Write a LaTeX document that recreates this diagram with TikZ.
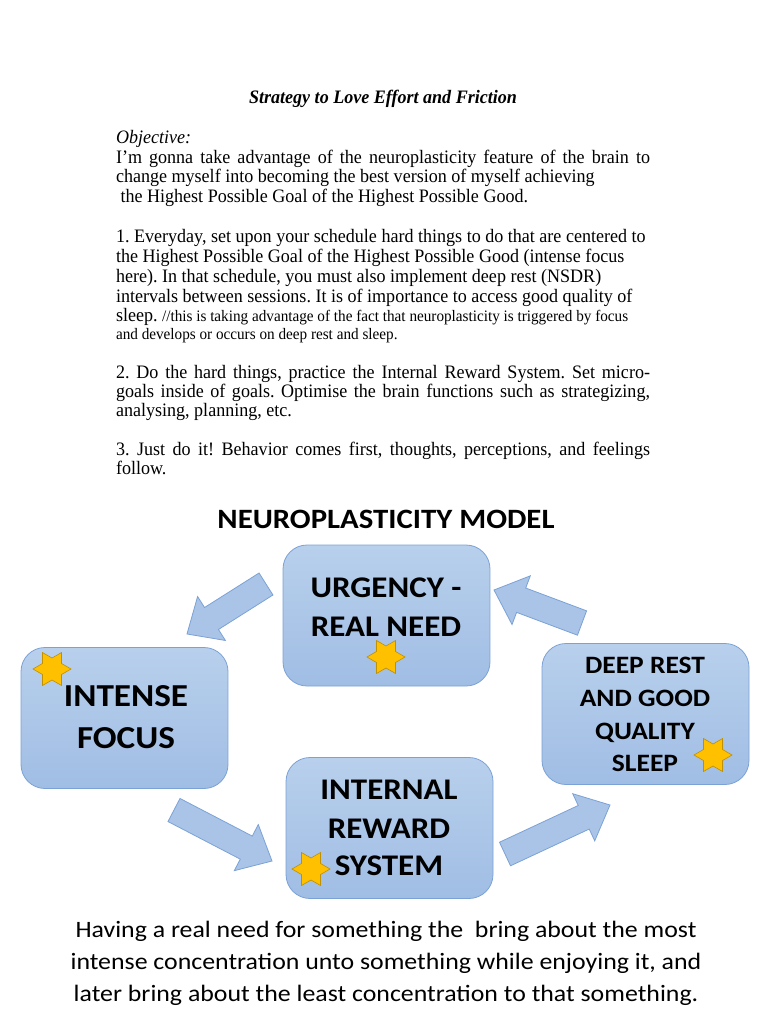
\documentclass[tikz,border=0pt]{standalone}
\usepackage{fontspec}
\setmainfont{Liberation Serif}[FakeStretch=0.95]
\newfontfamily\calib{Carlito}[FakeStretch=1.1]
\usetikzlibrary{calc}
\frenchspacing
\definecolor{boxtop}{HTML}{B8D0EC}
\definecolor{boxbot}{HTML}{A0BDE4}
\definecolor{boxline}{HTML}{7BA2D6}
\definecolor{arrfill}{HTML}{A9C4E7}
\definecolor{starfill}{HTML}{FFC000}
\definecolor{starline}{HTML}{BF9000}
\newcommand\bodyfont{\fontsize{19}{19.5}\selectfont}
\newcommand\smallbody{\fontsize{16}{16}\selectfont}
\newcommand\hexstar[1]{%
  \filldraw[starsty] (#1) +(0:19) -- +(30:11) -- +(60:19) -- +(90:11) -- +(120:19) -- +(150:11)
   -- +(180:19) -- +(210:11) -- +(240:19) -- +(270:11) -- +(300:19) -- +(330:11) -- cycle;}
\newcommand\blockarrow[2]{%
  \coordinate (#1hb) at ($(#2)!29pt!(#1)$);
  \filldraw[arrsty] ($(#1)!13pt!90:(#2)$) -- ($(#1hb)!13pt!90:(#2)$) -- ($(#1hb)!26pt!90:(#2)$)
   -- (#2) -- ($(#1hb)!26pt!-90:(#2)$) -- ($(#1hb)!13pt!-90:(#2)$) -- ($(#1)!13pt!-90:(#2)$) -- cycle;}
\begin{document}
\begin{tikzpicture}[x=1pt,y=-1pt,
  txt/.style={inner sep=0pt,outer sep=0pt,anchor=base west,font=\bodyfont},
  box/.style={rounded corners=24pt,top color=boxtop,bottom color=boxbot,draw=boxline,line width=0.8pt,
    minimum width=207pt,minimum height=141pt,inner sep=0pt},
  boxtxt/.style={inner sep=0pt,anchor=base,font=\calib\bfseries},
  starsty/.style={fill=starfill,draw=starline,line width=0.6pt,line join=miter},
  arrsty/.style={fill=arrfill,draw=boxline,line width=0.8pt,line join=miter}]
\useasboundingbox (0,0) rectangle (768,1024);
\fill[white] (0,0) rectangle (768,1024);

% ---------- text block ----------
\node[txt,anchor=base,font=\fontsize{19}{20}\selectfont\bfseries\itshape] (title) at (383,104) {Strategy to Love Effort and Friction};
\node[txt] (o1) at (116,144) {\itshape Objective:};
\node[txt] (o2) at (116,164) {\makebox[534pt][s]{I’m gonna take advantage of the neuroplasticity feature of the brain to}};
\node[txt] (o3) at (116,183) {change myself into becoming the best version of myself achieving};
\node[txt] (o4) at (116,203) {\ the Highest Possible Goal of the Highest Possible Good.};
\node[txt] (a1) at (116,242) {1. Everyday, set upon your schedule hard things to do that are centered to};
\node[txt] (a2) at (116,262) {the Highest Possible Goal of the Highest Possible Good (intense focus};
\node[txt] (a3) at (116,282) {here). In that schedule, you must also implement deep rest (NSDR)};
\node[txt] (a4) at (116,302) {intervals between sessions. It is of importance to access good quality of};
\node[txt] (a5) at (116,321) {sleep. {\smallbody //this is taking advantage of the fact that neuroplasticity is triggered by focus}};
\node[txt,font=\smallbody] (a6) at (116,339) {and develops or occurs on deep rest and sleep.};
\node[txt] (b1) at (116,378) {\makebox[534pt][s]{2. Do the hard things, practice the Internal Reward System. Set micro-}};
\node[txt] (b2) at (116,397) {\makebox[534pt][s]{goals inside of goals. Optimise the brain functions such as strategizing,}};
\node[txt] (b3) at (116,416) {analysing, planning, etc.};
\node[txt] (c1) at (116,455) {\makebox[534pt][s]{3. Just do it! Behavior comes first, thoughts, perceptions, and feelings}};
\node[txt] (c2) at (116,474) {follow.};

% ---------- model ----------
\node[boxtxt,font=\calib\bfseries\fontsize{28}{32}\selectfont] (mtitle) at (386,528) {NEUROPLASTICITY MODEL};

\node[box] (urg) at (386.5,615.5) {};
\node[box] (foc) at (124.5,718) {};
\node[box] (rest) at (645.5,714) {};
\node[box] (rew) at (389.5,828) {};

\node[boxtxt,font=\calib\bfseries\fontsize{30}{34}\selectfont] (urg1) at (386,597) {URGENCY -};
\node[boxtxt,font=\calib\bfseries\fontsize{30}{34}\selectfont] (urg2) at (386,636) {REAL NEED};
\node[boxtxt,font=\calib\bfseries\fontsize{32}{36}\selectfont] (foc1) at (126,706) {INTENSE};
\node[boxtxt,font=\calib\bfseries\fontsize{32}{36}\selectfont] (foc2) at (126,748) {FOCUS};
\node[boxtxt,font=\calib\bfseries\fontsize{25}{28}\selectfont] (rest1) at (645,673) {DEEP REST};
\node[boxtxt,font=\calib\bfseries\fontsize{25}{28}\selectfont] (rest2) at (645,706) {AND GOOD};
\node[boxtxt,font=\calib\bfseries\fontsize{25}{28}\selectfont] (rest3) at (645,739) {QUALITY};
\node[boxtxt,font=\calib\bfseries\fontsize{25}{28}\selectfont] (rest4) at (645,771) {SLEEP};
\node[boxtxt,font=\calib\bfseries\fontsize{30}{34}\selectfont] (rew1) at (389,799) {INTERNAL};
\node[boxtxt,font=\calib\bfseries\fontsize{30}{34}\selectfont] (rew2) at (389,838) {REWARD};
\node[boxtxt,font=\calib\bfseries\fontsize{30}{34}\selectfont] (rew3) at (389,875) {SYSTEM};

\coordinate (s1) at (386,657);
\coordinate (s2) at (52,669);
\coordinate (s3) at (713,755);
\coordinate (s4) at (311,869);
\hexstar{s1}\hexstar{s2}\hexstar{s3}\hexstar{s4}

\coordinate (t1) at (266,584); \coordinate (p1) at (187,634);
\coordinate (t2) at (174,810); \coordinate (p2) at (272,861);
\coordinate (t3) at (505,854); \coordinate (p3) at (610,805);
\coordinate (t4) at (582,623); \coordinate (p4) at (494,590);
\blockarrow{t1}{p1}
\blockarrow{t2}{p2}
\blockarrow{t3}{p3}
\blockarrow{t4}{p4}

\node[boxtxt,font=\calib\fontsize{23.5}{28}\selectfont] (bot1) at (386,937) {Having a real need for something the \ bring about the most};
\node[boxtxt,font=\calib\fontsize{23.5}{28}\selectfont] (bot2) at (386,969) {intense concentration unto something while enjoying it, and};
\node[boxtxt,font=\calib\fontsize{23.5}{28}\selectfont] (bot3) at (386,1001) {later bring about the least concentration to that something.};
\end{tikzpicture}
\end{document}
